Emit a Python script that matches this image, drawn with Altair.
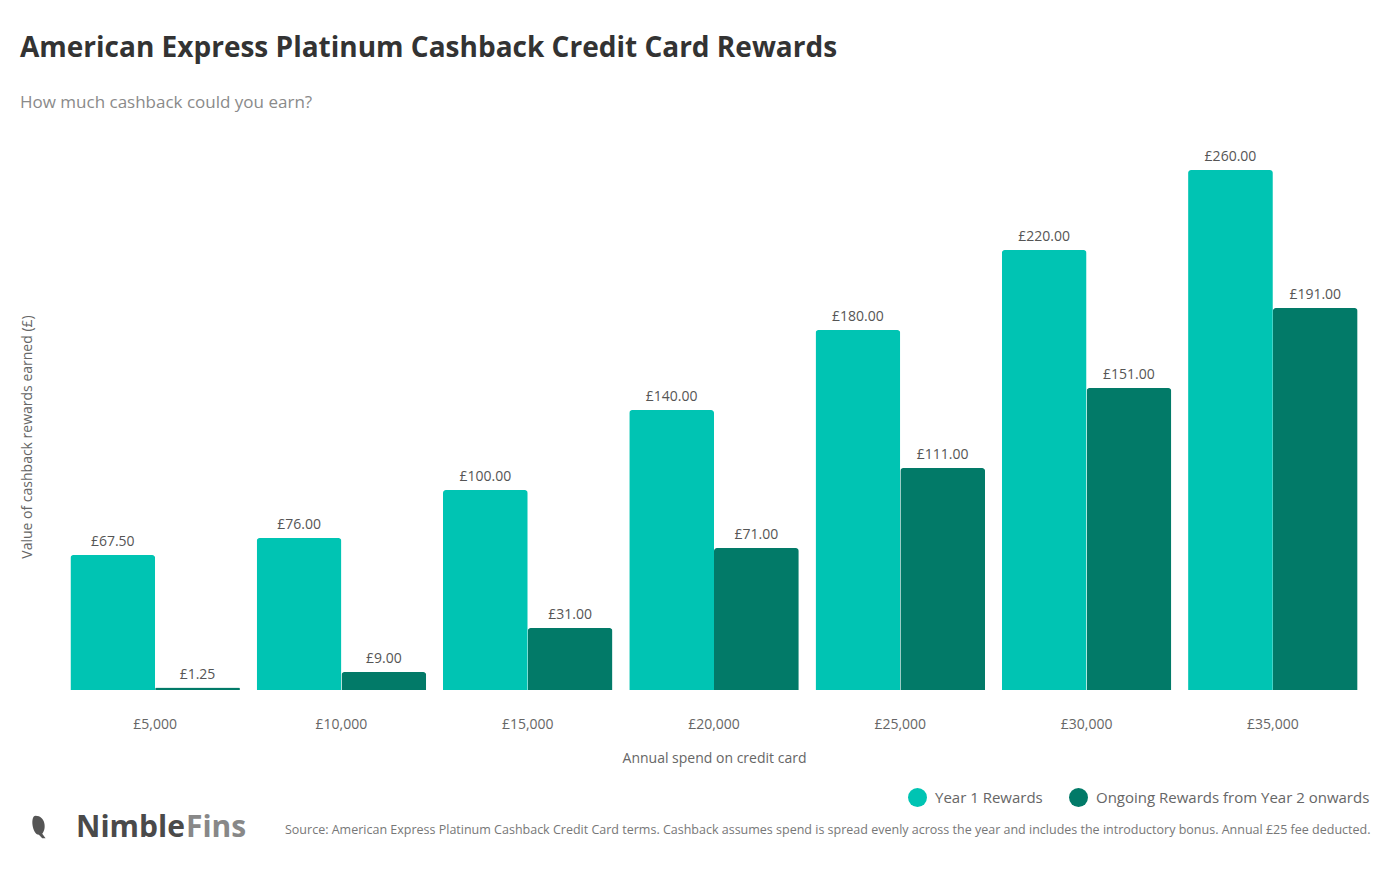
import altair as alt
import pandas as pd

# ---- data ----
categories = ["£5,000", "£10,000", "£15,000", "£20,000", "£25,000", "£30,000", "£35,000"]
series = ["Year 1 Rewards", "Ongoing Rewards from Year 2 onwards"]
year1_values = [67.50, 76.00, 100.00, 140.00, 180.00, 220.00, 260.00]
year2_values = [1.25, 9.00, 31.00, 71.00, 111.00, 151.00, 191.00]
colors = ["#00c4b3", "#027a68"]

title_text = "American Express Platinum Cashback Credit Card Rewards"
subtitle_text = "How much cashback could you earn?"
x_title = "Annual spend on credit card"
y_title = "Value of cashback rewards earned (£)"
logo_a = "Nimble"
logo_b = "Fins"
source_text = ("Source: American Express Platinum Cashback Credit Card terms. Cashback assumes spend is spread evenly "
               "across the year and includes the introductory bonus. Annual £25 fee deducted.")

rows = []
for c, a, b in zip(categories, year1_values, year2_values):
    rows.append({"spend": c, "series": series[0], "value": a, "label": f"£{a:,.2f}"})
    rows.append({"spend": c, "series": series[1], "value": b, "label": f"£{b:,.2f}"})
df = pd.DataFrame(rows)

FONT = "Open Sans"

x_enc = alt.X("spend:N", sort=categories,
              scale=alt.Scale(paddingInner=0.09, paddingOuter=0.045),
              axis=alt.Axis(title=x_title, ticks=False, domain=False, labelAngle=0,
                            labelPadding=27, labelFontSize=14, labelColor="#666666",
                            titleFontSize=14, titleColor="#666666", titleFontWeight="normal",
                            titlePadding=20, labelFont=FONT, titleFont=FONT))
xo_enc = alt.XOffset("series:N", sort=series, scale=alt.Scale(paddingInner=0, paddingOuter=0))
y_enc = alt.Y("value:Q", scale=alt.Scale(domain=[0, 280]), axis=None)

bars = alt.Chart(df).mark_bar(cornerRadiusTopLeft=3, cornerRadiusTopRight=3).encode(
    x=x_enc, xOffset=xo_enc, y=y_enc,
    color=alt.Color("series:N", sort=series,
                    scale=alt.Scale(domain=series, range=colors),
                    legend=alt.Legend(title=None, orient="none", legendX=846, legendY=658,
                                      direction="horizontal", symbolType="circle",
                                      symbolSize=360, symbolStrokeWidth=0,
                                      labelFontSize=15, labelColor="#666666", labelFont=FONT,
                                      labelLimit=400, columnPadding=26, labelOffset=8))
)

labels = alt.Chart(df).mark_text(baseline="bottom", dy=-6, fontSize=14, color="#555555", font=FONT).encode(
    x=alt.X("spend:N", sort=categories), xOffset=alt.XOffset("series:N", sort=series),
    y=alt.Y("value:Q"), text=alt.Text("label:N")
)

def txt(s, x, y, **kw):
    return alt.Chart(pd.DataFrame({"t": [s]})).mark_text(align="left", baseline="middle", font=FONT, **kw).encode(
        x=alt.value(x), y=alt.value(y), text="t:N")

title = txt(title_text, -42, -81, fontSize=28, fontWeight="bold", color="#333333")
subtitle = txt(subtitle_text, -42, -27, fontSize=17, color="#8a8a8a")
ytitle = alt.Chart(pd.DataFrame({"t": [y_title]})).mark_text(
    angle=270, align="center", baseline="middle", fontSize=14, color="#666666", font=FONT).encode(
    x=alt.value(-34), y=alt.value(307), text="t:N")
icon = alt.Chart(pd.DataFrame({"t": [1]})).mark_point(
    filled=True, color="#555555", opacity=1,
    shape="M-0.4,-1 C0.5,-1 0.6,0.2 0.2,0.6 L0.5,1 L0.2,1 L-0.1,0.7 C-0.7,0.7 -0.9,-1 -0.4,-1 Z").encode(
    x=alt.value(-22), y=alt.value(697), size=alt.value(500))
logo1 = txt(logo_a, 14, 698, fontSize=30, fontWeight="bold", color="#4a4a4a")
logo2 = txt(logo_b, 124, 698, fontSize=30, fontWeight="bold", color="#888888")
source = txt(source_text, 223, 700, fontSize=12.5, color="#777777")

chart = alt.layer(bars, labels, title, subtitle, ytitle, icon, logo1, logo2, source).properties(
    width=1304, height=560,
    autosize=alt.AutoSizeParams(type="none"),
    padding={"left": 54, "top": 122, "right": 20, "bottom": 166},
).configure(font=FONT, view=alt.ViewConfig(strokeWidth=0, stroke="transparent"))

chart.save("out.html", embed_options={"renderer": "svg", "actions": False})
